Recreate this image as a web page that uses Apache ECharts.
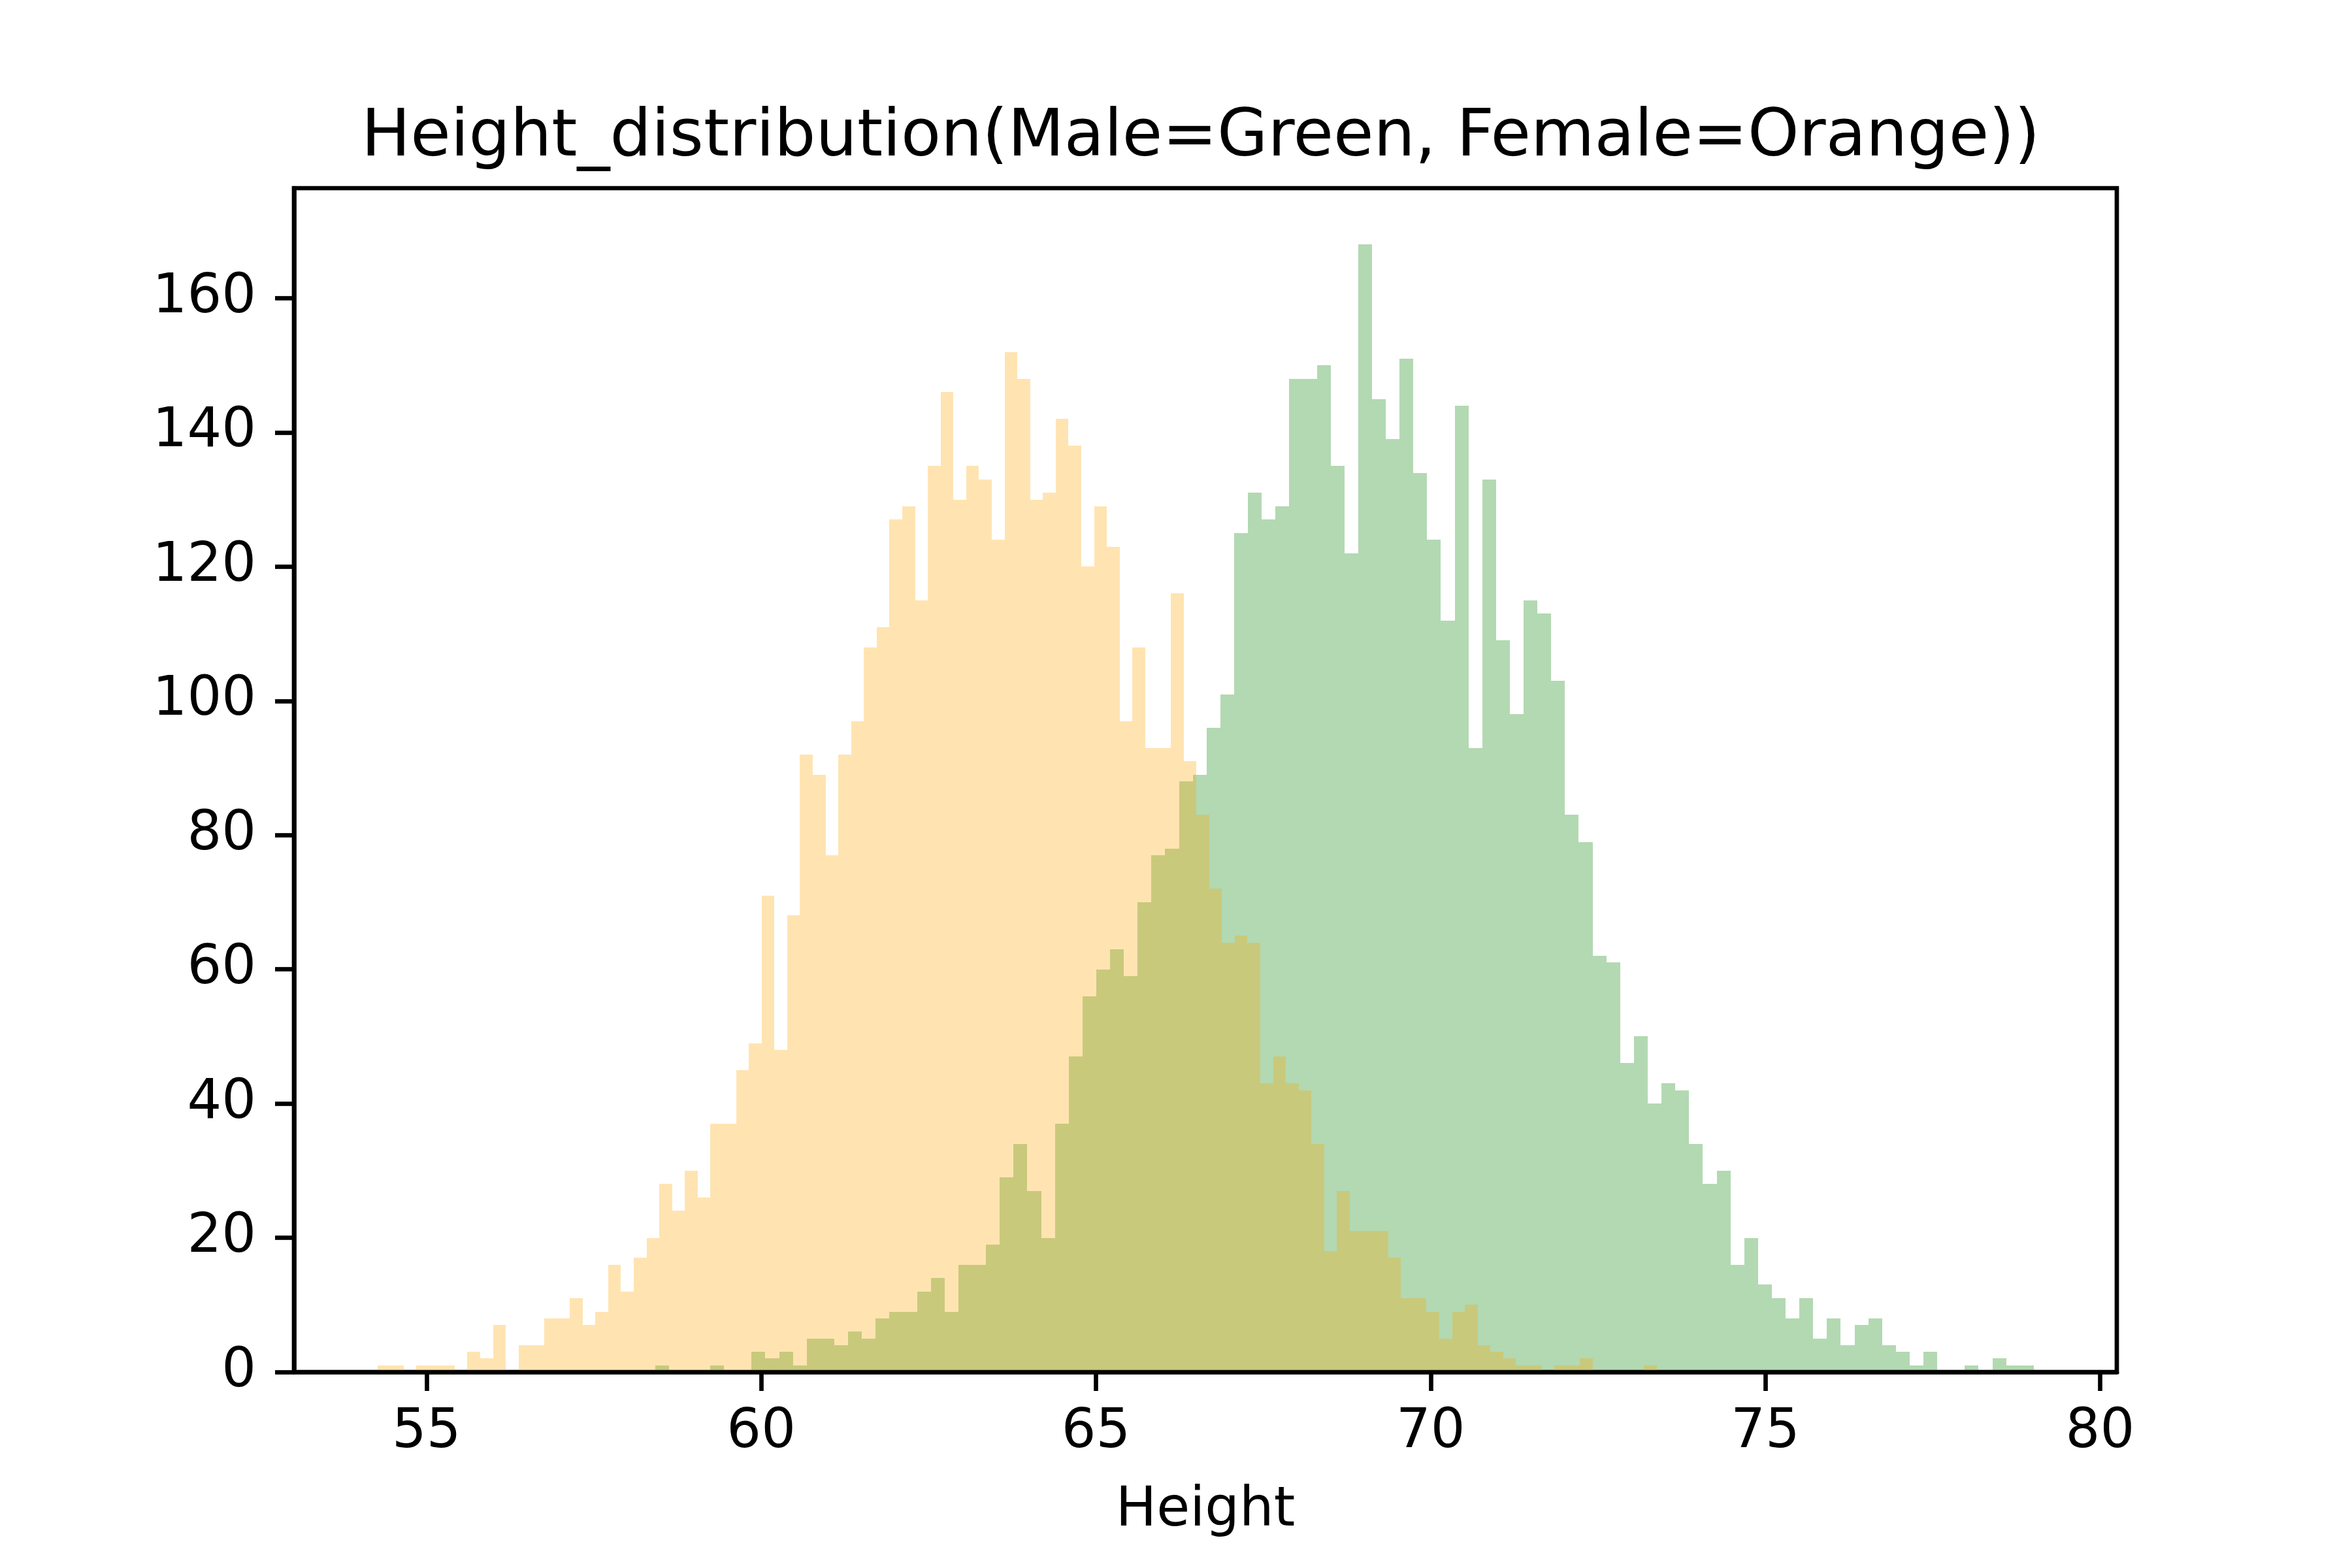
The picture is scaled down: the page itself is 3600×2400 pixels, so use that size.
<!DOCTYPE html>
<html>
<head>
<meta charset="utf-8">
<script src="https://cdn.jsdelivr.net/npm/echarts@6/dist/echarts.min.js"></script>
<style>
html,body{margin:0;padding:0;background:#fff;}
#chart{width:3600px;height:2400px;}
</style>
</head>
<body>
<div id="chart"></div>
<script>
// Histogram counts per bin (100 bins each)
const maleCounts = [1,0,0,0,1,0,0,3,2,3, 1,5,5,4,6,5,8,9,9,12, 14,9,16,16,19,29,34,27,20,37, 47,56,60,63,59,70,77,78,88,89, 96,101,125,131,127,129,148,148,150,135, 122,168,145,139,151,134,124,112,144,93, 133,109,98,115,113,103,83,79,62,61, 46,50,40,43,42,34,28,30,16,20, 13,11,8,11,5,8,4,7,8,4, 3,1,3,0,0,1,0,2,1,1];
const femaleCounts = [1,1,0,1,1,1,0,3,2,7, 0,4,4,8,8,11,7,9,16,12, 17,20,28,24,30,26,37,37,45,49, 71,48,68,92,89,77,92,97,108,111, 127,129,115,135,146,130,135,133,124,152, 148,130,131,142,138,120,129,123,97,108, 93,93,116,91,83,72,64,65,64,43, 47,43,42,34,18,27,21,21,21,17, 11,11,9,5,9,10,4,3,2,1, 1,0,1,1,2,0,0,0,0,1];
// Histogram ranges (data min / max) for each group
const maleRange = [58.414, 79.009];
const femaleRange = [54.274, 73.377];
// Axis ticks
const xTicks = [55, 60, 65, 70, 75, 80];
const yTicks = [0, 20, 40, 60, 80, 100, 120, 140, 160];
const xExtent = [53.02, 80.25];
const yExtent = [0, 176.4];

function histData(counts, range) {
  const n = counts.length, w = (range[1] - range[0]) / n;
  return counts.map((c, i) => [range[0] + i * w, range[0] + (i + 1) * w, c]);
}
function makeRender(fill) {
  return function (params, api) {
    const p0 = api.coord([api.value(0), api.value(2)]);
    const p1 = api.coord([api.value(1), 0]);
    const x0 = Math.round(p0[0]), x1 = Math.round(p1[0]);
    const yTop = Math.round(p0[1]), yBot = Math.round(p1[1]);
    return {
      type: 'rect',
      shape: { x: x0, y: yTop, width: x1 - x0, height: yBot - yTop },
      style: { fill: fill }
    };
  };
}

const chart = echarts.init(document.getElementById('chart'), null, { renderer: 'canvas' });
const FONT = 'DejaVu Sans';
const LW = 6.67;
chart.setOption({
  animation: false,
  backgroundColor: '#ffffff',
  title: {
    text: 'Height_distribution(Male=Green, Female=Orange))',
    left: 553,
    top: 162,
    padding: 0,
    textStyle: { fontFamily: FONT, fontSize: 100, fontWeight: 'normal', color: '#000', lineHeight: 100 }
  },
  grid: {
    left: 450, top: 288, width: 2790, height: 1812,
    show: true, borderColor: '#000', borderWidth: LW, backgroundColor: 'transparent'
  },
  xAxis: {
    type: 'value', min: xExtent[0], max: xExtent[1], z: 10,
    name: 'Height', nameLocation: 'middle', nameGap: 172,
    nameTextStyle: { fontFamily: FONT, fontSize: 83, color: '#000', lineHeight: 83 },
    axisLine: { show: true, onZero: false, lineStyle: { color: '#000', width: LW } },
    axisTick: { show: true, length: 29, lineStyle: { color: '#000', width: LW }, customValues: xTicks },
    axisLabel: { fontFamily: FONT, fontSize: 83, color: '#000', margin: 52, lineHeight: 83, customValues: xTicks },
    splitLine: { show: false }
  },
  yAxis: {
    type: 'value', min: yExtent[0], max: yExtent[1], z: 10,
    axisLine: { show: true, onZero: false, lineStyle: { color: '#000', width: LW } },
    axisTick: { show: true, length: 29, lineStyle: { color: '#000', width: LW }, customValues: yTicks },
    axisLabel: { fontFamily: FONT, fontSize: 83, color: '#000', margin: 58, lineHeight: 83, customValues: yTicks },
    splitLine: { show: false }
  },
  series: [
    {
      name: 'Male', type: 'custom', renderItem: makeRender('rgba(0,128,0,0.3)'),
      encode: { x: [0, 1], y: 2 }, data: histData(maleCounts, maleRange), z: 2
    },
    {
      name: 'Female', type: 'custom', renderItem: makeRender('rgba(255,165,0,0.3)'),
      encode: { x: [0, 1], y: 2 }, data: histData(femaleCounts, femaleRange), z: 3
    }
  ]
});
</script>
</body>
</html>
